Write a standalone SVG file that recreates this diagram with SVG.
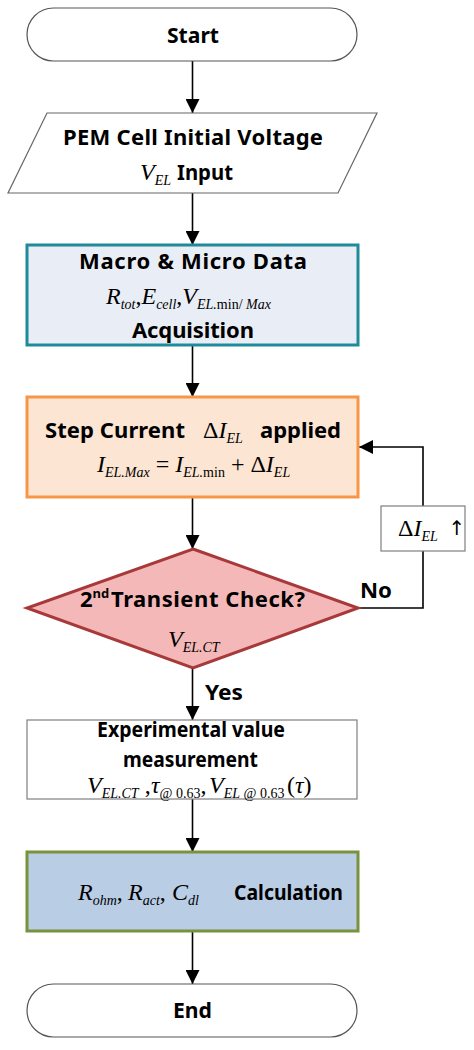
<svg xmlns="http://www.w3.org/2000/svg" width="474" height="1050" viewBox="0 0 474 1050">
<defs>
<marker id="ah" markerWidth="14" markerHeight="14" viewBox="0 0 14 14" refX="14" refY="7" orient="auto" markerUnits="userSpaceOnUse">
<path d="M0,0 L14,7 L0,14 Z" fill="#000"/>
</marker>
<style>
.b{font-family:"Noto Sans","Open Sans","Liberation Sans",sans-serif;font-weight:bold;font-size:22px;fill:#000}
.m{font-family:"Liberation Serif","DejaVu Serif",serif;font-style:italic;font-size:24px;fill:#000}
.s{font-size:14px}
.u{font-style:normal}
.ar{font-family:"DejaVu Sans",sans-serif;font-size:20px;fill:#000}
.ln{stroke:#000;stroke-width:1.6;fill:none}
</style>
</defs>
<rect width="474" height="1050" fill="#fff"/>
<g id="connectors">
<line class="ln" x1="192.5" y1="61" x2="192.5" y2="113" marker-end="url(#ah)"/>
<line class="ln" x1="192.5" y1="193" x2="192.5" y2="245" marker-end="url(#ah)"/>
<line class="ln" x1="192.5" y1="345" x2="192.5" y2="397" marker-end="url(#ah)"/>
<line class="ln" x1="192.5" y1="497" x2="192.5" y2="549" marker-end="url(#ah)"/>
<line class="ln" x1="192.5" y1="668" x2="192.5" y2="720" marker-end="url(#ah)"/>
<line class="ln" x1="192.5" y1="799" x2="192.5" y2="852" marker-end="url(#ah)"/>
<line class="ln" x1="192.5" y1="931" x2="192.5" y2="984" marker-end="url(#ah)"/>
<polyline class="ln" points="358,608 423,608 423,551"/>
<polyline class="ln" points="423,506 423,447 359,447" marker-end="url(#ah)"/>
<text class="b" x="360" y="598" textLength="32" lengthAdjust="spacingAndGlyphs">No</text>
<text class="b" x="205" y="700" textLength="38" lengthAdjust="spacingAndGlyphs">Yes</text>
</g>
<g id="start">
<rect x="27" y="8" width="330" height="53" rx="26.5" fill="#fff" stroke="#555" stroke-width="1.2"/>
<text class="b" x="167" y="43" textLength="52" lengthAdjust="spacingAndGlyphs">Start</text>
</g>
<g id="input">
<polygon points="47,113 377,113 338,193 8,193" fill="#fff" stroke="#666" stroke-width="1.2"/>
<text class="b" x="63" y="145" textLength="260" lengthAdjust="spacing">PEM Cell Initial Voltage</text>
<text x="140" y="180" class="m"><tspan>V</tspan><tspan class="s" dy="5">EL</tspan></text>
<text class="b" x="177" y="180" textLength="56" lengthAdjust="spacingAndGlyphs">Input</text>
</g>
<g id="acquisition">
<rect x="27" y="245" width="331" height="100" fill="#E9EEF6" stroke="#1F8A9A" stroke-width="3"/>
<text class="b" x="79" y="269" textLength="228" lengthAdjust="spacing">Macro &amp; Micro Data</text>
<text x="106" y="304" class="m"><tspan>R</tspan><tspan class="s" dy="5">tot</tspan><tspan class="u" dy="-5">,</tspan><tspan>E</tspan><tspan class="s" dy="5">cell</tspan><tspan class="u" dy="-5">,</tspan><tspan>V</tspan><tspan class="s" dy="5">EL.</tspan><tspan class="s u">min/ </tspan><tspan class="s">Max</tspan></text>
<text class="b" x="132" y="338" textLength="122" lengthAdjust="spacing">Acquisition</text>
</g>
<g id="step">
<rect x="27" y="397" width="331" height="100" fill="#FDE5D3" stroke="#F79646" stroke-width="3"/>
<text class="b" x="45" y="438" textLength="140" lengthAdjust="spacing">Step Current</text>
<text x="203" y="438" class="m"><tspan class="u">Δ</tspan><tspan>I</tspan><tspan class="s" dy="5">EL</tspan></text>
<text class="b" x="260" y="438" textLength="81" lengthAdjust="spacing">applied</text>
<text x="97" y="472" class="m"><tspan>I</tspan><tspan class="s" dy="5">EL.Max</tspan><tspan class="u" dy="-5"> = </tspan><tspan>I</tspan><tspan class="s" dy="5">EL.</tspan><tspan class="s u">min</tspan><tspan class="u" dy="-5"> + Δ</tspan><tspan>I</tspan><tspan class="s" dy="5">EL</tspan></text>
</g>
<g id="check">
<polygon points="193,549 358,608 193,668 27,608" fill="#F4B8B8" stroke="#A8393A" stroke-width="3"/>
<text x="80" y="607" class="b"><tspan>2</tspan><tspan font-size="13" dy="-9">nd</tspan></text>
<text x="111" y="607" class="b" textLength="194" lengthAdjust="spacing">Transient Check?</text>
<text x="168" y="647" class="m"><tspan>V</tspan><tspan class="s" dy="5">EL.CT</tspan></text>
</g>
<g id="increment">
<rect x="381" y="506" width="84" height="45" fill="#fff" stroke="#7F7F7F" stroke-width="1.2"/>
<text x="398" y="536" class="m"><tspan class="u">Δ</tspan><tspan>I</tspan><tspan class="s" dy="5">EL</tspan></text>
<text x="457" y="535" class="ar" text-anchor="middle">↑</text>
</g>
<g id="measurement">
<rect x="27" y="720" width="330" height="79" fill="#fff" stroke="#7F7F7F" stroke-width="1.2"/>
<text class="b" x="97" y="737" textLength="188" lengthAdjust="spacingAndGlyphs">Experimental value</text>
<text class="b" x="123" y="767" textLength="135" lengthAdjust="spacingAndGlyphs">measurement</text>
<text y="793" class="m"><tspan x="87">V</tspan><tspan class="s" dy="5">EL.CT</tspan><tspan class="u" dy="-5"> ,</tspan><tspan x="151">τ</tspan><tspan class="s u" dy="5">@ 0.63</tspan><tspan class="u" dy="-5">,</tspan><tspan x="209">V</tspan><tspan class="s" dy="5">EL</tspan><tspan class="s u"> @ 0.63</tspan><tspan class="u" x="287" dy="-5">(</tspan><tspan>τ</tspan><tspan class="u">)</tspan></text>
</g>
<g id="calculation">
<rect x="27" y="852" width="331" height="79" fill="#B9CDE5" stroke="#77933C" stroke-width="3"/>
<text y="900" class="m"><tspan x="78">R</tspan><tspan class="s" dy="5">ohm</tspan><tspan class="u" dy="-5">,</tspan><tspan x="128">R</tspan><tspan class="s" dy="5">act</tspan><tspan class="u" dy="-5">,</tspan><tspan x="172">C</tspan><tspan class="s" dy="5">dl</tspan></text>
<text class="b" x="234" y="900" textLength="109" lengthAdjust="spacingAndGlyphs">Calculation</text>
</g>
<g id="end">
<rect x="27" y="984" width="330" height="53" rx="26.5" fill="#fff" stroke="#555" stroke-width="1.2"/>
<text class="b" x="173" y="1018" textLength="39" lengthAdjust="spacingAndGlyphs">End</text>
</g>
</svg>
